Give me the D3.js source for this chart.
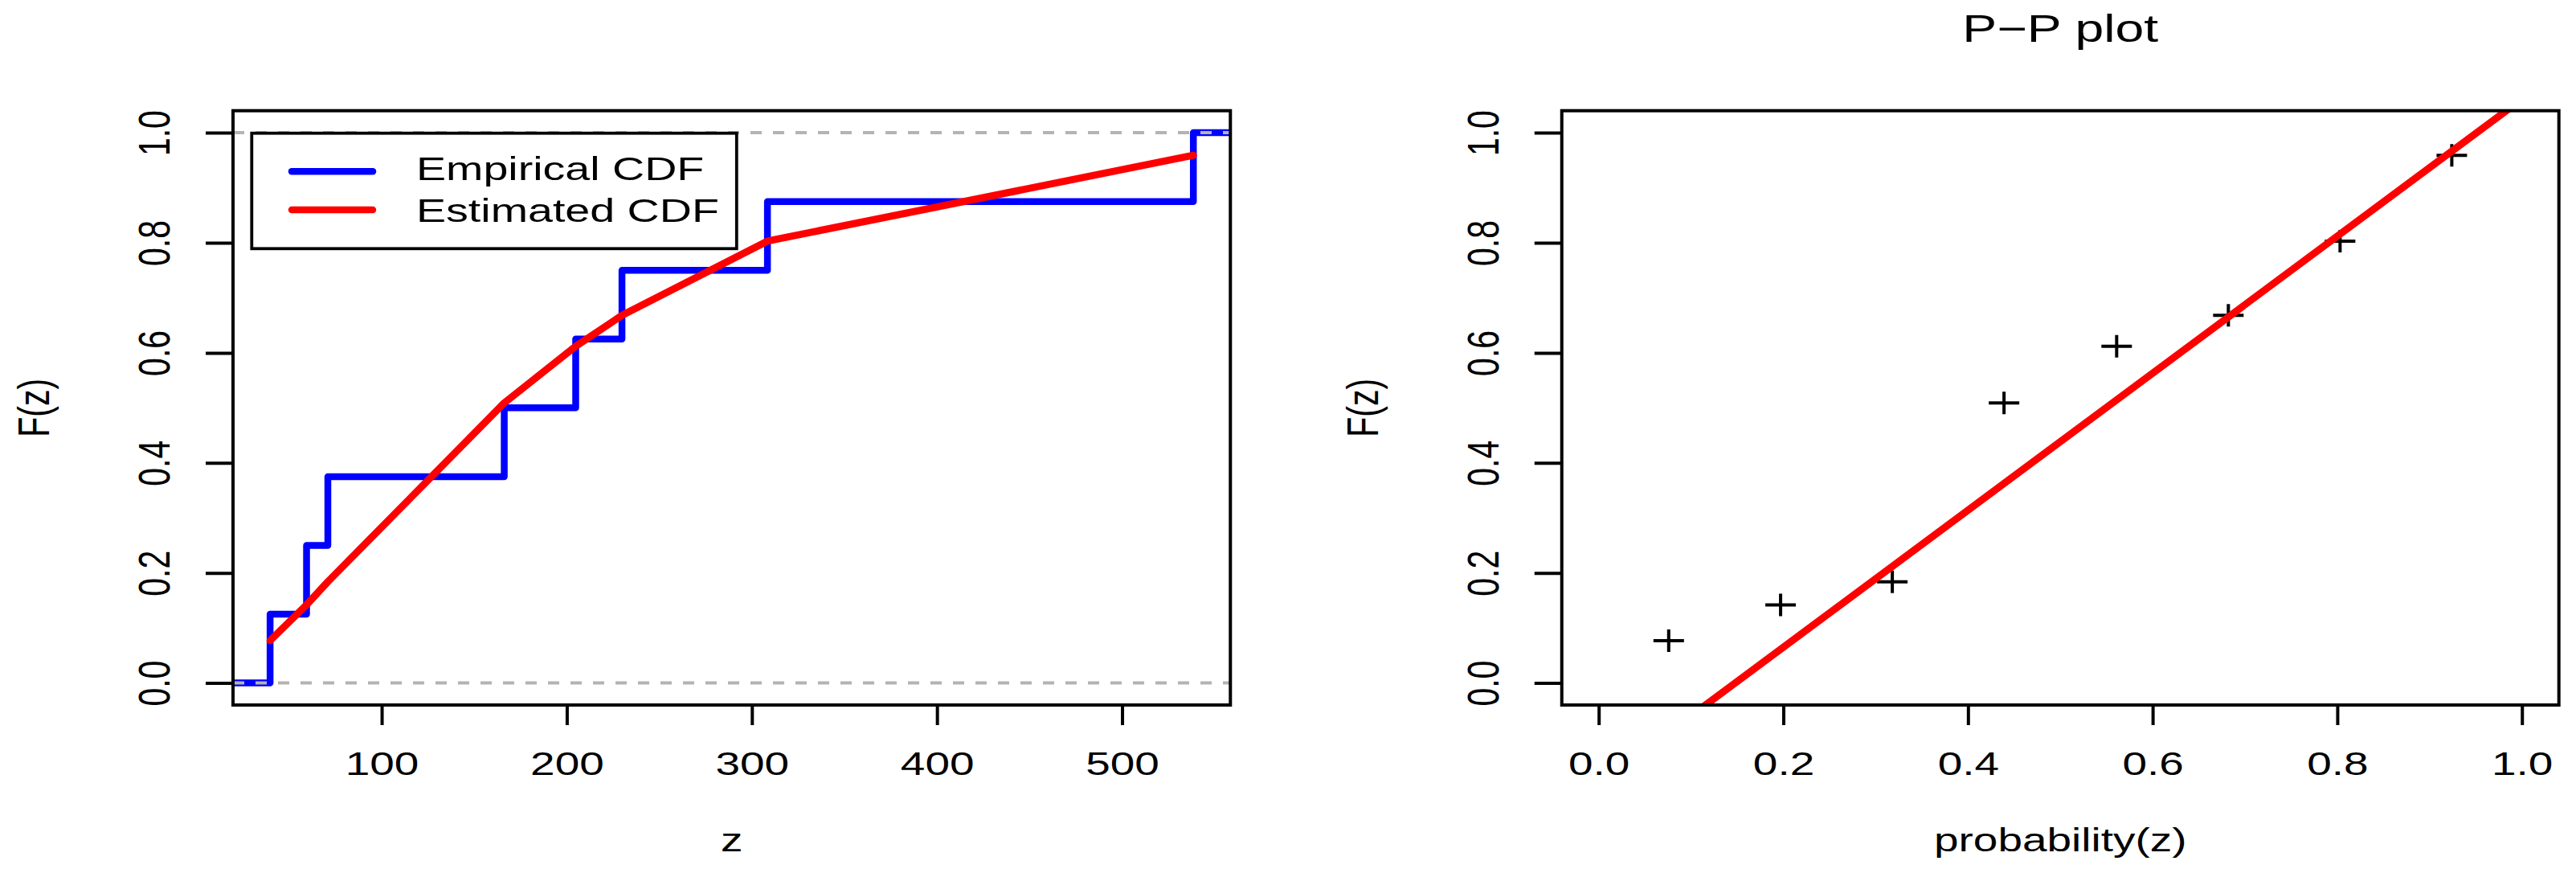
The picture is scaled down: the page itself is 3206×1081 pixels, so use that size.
<!DOCTYPE html>
<html><head><meta charset="utf-8">
<script src="https://cdn.jsdelivr.net/npm/d3@7"></script>
<style>
body{margin:0;background:#fff}
svg text{font-family:"Liberation Sans",Arial,Helvetica,sans-serif;fill:#000}
</style>
</head><body>
<svg id="c" width="3206" height="1081"></svg>
<script>
// ---------- data ----------
const zKnots      = [39.7, 59.4, 70.9, 166.2, 204.8, 229.8, 308.4, 538.5];
const ecdfLevels  = [0.125, 0.25, 0.375, 0.5, 0.625, 0.75, 0.875, 1.0];
const estCdf      = [0.077, 0.142, 0.184, 0.509, 0.612, 0.668, 0.803, 0.959];
const ppProb      = [0.0758, 0.197, 0.318, 0.439, 0.561, 0.682, 0.803, 0.924];
const ppLine      = [-0.184, 1.245];           // intercept, slope
const xTicksLeft  = [100, 200, 300, 400, 500];
const xTicksRight = [0, 0.2, 0.4, 0.6, 0.8, 1.0];
const yTicks      = [0, 0.2, 0.4, 0.6, 0.8, 1.0];
const legendLabels = ["Empirical CDF", "Estimated CDF"];
const legendColors = ["#0000ff", "#ff0000"];

// ---------- setup ----------
const SX = 1.34;          // horizontal stretch of the original raster
const FS = 41;            // axis text size
const svg = d3.select("#c");
svg.append("rect").attr("width", 3206).attr("height", 1081).attr("fill", "#fff");

const yRange = [877, 137.7];
const xL = d3.scaleLinear().domain([19.67, 558.5]).range([290, 1531.3]);
const yL = d3.scaleLinear().domain([-0.04, 1.04]).range(yRange);
const xR = d3.scaleLinear().domain([-0.04, 1.04]).range([1943.75, 3184.7]);
const yR = d3.scaleLinear().domain([-0.04, 1.04]).range(yRange);

function axes(g, x, y, xt, xfmt) {
  const gx = g.append("g").attr("transform", `translate(0,${y.range()[0]})`)
    .call(d3.axisBottom(x).tickValues(xt).tickSize(25).tickFormat(xfmt));
  gx.select(".domain").remove();
  gx.selectAll("line").attr("stroke", "#000").attr("stroke-width", 4);
  gx.selectAll("text").attr("y", 87).attr("dy", null)
    .attr("font-size", FS)
    .attr("transform", `scale(${SX},1)`);
  gx.attr("font-size", null).attr("font-family", null);

  const gy = g.append("g").attr("transform", `translate(${x.range()[0]},0)`)
    .call(d3.axisLeft(y).tickValues(yTicks).tickSize(34).tickFormat(d3.format(".1f")));
  gy.select(".domain").remove();
  gy.selectAll("line").attr("stroke", "#000").attr("stroke-width", 4);
  gy.selectAll("text").attr("x", null).attr("dy", null)
    .attr("text-anchor", "middle").attr("font-size", FS)
    .attr("transform", `translate(-79,0) scale(${SX},1) rotate(-90)`);
  gy.attr("font-size", null).attr("font-family", null);
}

function box(g, x, y) {
  g.append("rect")
    .attr("x", x.range()[0]).attr("y", y.range()[1])
    .attr("width", x.range()[1] - x.range()[0])
    .attr("height", y.range()[0] - y.range()[1])
    .attr("fill", "none").attr("stroke", "#000").attr("stroke-width", 4);
}

function label(g, txt, x, y, size, rotate) {
  g.append("text").text(txt).attr("text-anchor", "middle").attr("font-size", size)
    .attr("transform", `translate(${x},${y}) scale(${SX},1)` + (rotate ? " rotate(-90)" : ""));
}

// ---------- left panel ----------
const L = svg.append("g");
const stepPts = [[xL.domain()[0], 0]]
  .concat(zKnots.map((z, i) => [z, ecdfLevels[i]]))
  .concat([[xL.domain()[1], ecdfLevels[ecdfLevels.length - 1]]]);
L.append("path")
  .attr("d", d3.line().x(d => xL(d[0])).y(d => yL(d[1])).curve(d3.curveStepAfter)(stepPts))
  .attr("fill", "none").attr("stroke", legendColors[0]).attr("stroke-width", 8.5)
  .attr("stroke-linejoin", "round");

[0, 1].forEach(h => {
  L.append("line")
    .attr("x1", xL.range()[0]).attr("x2", xL.range()[1])
    .attr("y1", yL(h)).attr("y2", yL(h))
    .attr("stroke", "#b3b3b3").attr("stroke-width", 4)
    .attr("stroke-dasharray", "14,14");
});

L.append("path")
  .attr("d", d3.line().x((d, i) => xL(zKnots[i])).y(d => yL(d))(estCdf))
  .attr("fill", "none").attr("stroke", legendColors[1]).attr("stroke-width", 9)
  .attr("stroke-linejoin", "round").attr("stroke-linecap", "round");

// legend
const lg = L.append("g");
lg.append("rect").attr("x", 313.3).attr("y", 165.7).attr("width", 603.5).attr("height", 143.6)
  .attr("fill", "#fff").attr("stroke", "#000").attr("stroke-width", 3.8);
const legLineY = [213.3, 261];
const legTextY = [224.3, 276];
legendLabels.forEach((t, i) => {
  lg.append("line").attr("x1", 363).attr("x2", 464)
    .attr("y1", legLineY[i]).attr("y2", legLineY[i])
    .attr("stroke", legendColors[i]).attr("stroke-width", 8.5).attr("stroke-linecap", "round");
  lg.append("text").text(t).attr("font-size", 41.5)
    .attr("transform", `translate(518,${legTextY[i]}) scale(${SX},1)`);
});

box(L, xL, yL);
axes(L, xL, yL, xTicksLeft, d3.format("d"));
label(L, "z", (xL.range()[0] + xL.range()[1]) / 2, 1059, FS, false);
label(L, "F(z)", 61, (yRange[0] + yRange[1]) / 2, FS, true);

// ---------- right panel ----------
const R = svg.append("g");
R.append("clipPath").attr("id", "clipR").append("rect")
  .attr("x", xR.range()[0]).attr("y", yR.range()[1])
  .attr("width", xR.range()[1] - xR.range()[0])
  .attr("height", yR.range()[0] - yR.range()[1]);

R.append("g").selectAll("path").data(ppProb).join("path")
  .attr("d", (p, i) => {
    const cx = xR(p), cy = yR(estCdf[i]);
    return `M${cx - 19},${cy}H${cx + 19}M${cx},${cy - 14}V${cy + 14}`;
  })
  .attr("fill", "none").attr("stroke", "#000").attr("stroke-width", 4);

const lineDom = xR.domain();
R.append("line").attr("clip-path", "url(#clipR)")
  .attr("x1", xR(lineDom[0])).attr("y1", yR(ppLine[0] + ppLine[1] * lineDom[0]))
  .attr("x2", xR(lineDom[1])).attr("y2", yR(ppLine[0] + ppLine[1] * lineDom[1]))
  .attr("stroke", "#ff0000").attr("stroke-width", 9);

box(R, xR, yR);
axes(R, xR, yR, xTicksRight, d3.format(".1f"));
label(R, "probability(z)", (xR.range()[0] + xR.range()[1]) / 2, 1059, FS, false);
label(R, "F(z)", 1714.7, (yRange[0] + yRange[1]) / 2, FS, true);
label(R, "P\u2212P plot", (xR.range()[0] + xR.range()[1]) / 2, 52, 48, false);
</script>
</body></html>
